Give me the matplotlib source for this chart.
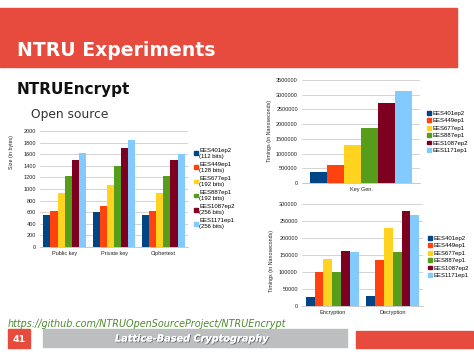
import matplotlib
matplotlib.use("Agg")
import matplotlib.pyplot as plt
import numpy as np
from matplotlib.patches import Rectangle, Patch
import matplotlib.patheffects as pe

# ---------------------------------------------------------------------------
# data
# ---------------------------------------------------------------------------
param_sets = ["EES401ep2", "EES449ep1", "EES677ep1", "EES887ep1", "EES1087ep2", "EES1171ep1"]
security = ["112 bits", "128 bits", "192 bits", "192 bits", "256 bits", "256 bits"]
colors = ["#004586", "#ff420e", "#ffd320", "#579d1c", "#7e0021", "#83caff"]

size_categories = ["Public key", "Private key", "Ciphertext"]
size_public = [553, 622, 939, 1222, 1498, 1614]
size_private = [611, 715, 1072, 1400, 1712, 1850]
size_cipher = [553, 622, 928, 1216, 1493, 1608]

keygen_categories = ["Key Gen."]
keygen_time = [372000, 621000, 1276000, 1863000, 2710000, 3127000]

crypt_categories = ["Encryption", "Decryption"]
encrypt_time = [27500, 101000, 138000, 99000, 163000, 160000]
decrypt_time = [30000, 136000, 229000, 160000, 280000, 268000]

W, H = 474, 355
fig = plt.figure(figsize=(W / 100, H / 100), dpi=100)
fig.patch.set_facecolor("white")


def box(x0, y0, x1, y1):
    # pixel box (top-left origin) -> figure fraction rect
    return [x0 / W, 1 - y1 / H, (x1 - x0) / W, (y1 - y0) / H]


def fx(x):
    return x / W


def fy(y):
    return 1 - y / H


CHART_FONT = "Liberation Sans"


def bar_chart(rect, categories, series, ymax, ystep, ylabel, ylabel_pos):
    ax = fig.add_axes(rect)
    n = len(series[0])
    width = 0.87 / n
    x = np.arange(len(categories))
    for i in range(n):
        vals = [s[i] for s in series]
        ax.bar(x - 0.435 + width * (i + 0.5), vals, width=width, color=colors[i],
               linewidth=0, zorder=3)
    ax.set_xlim(-0.5, len(categories) - 0.5)
    ax.set_ylim(0, ymax)
    ax.set_yticks(np.arange(0, ymax + 1, ystep))
    ax.ticklabel_format(style="plain", axis="y", useOffset=False)
    ax.set_xticks(x)
    ax.set_xticklabels(categories, fontsize=4.3, family=CHART_FONT)
    ax.tick_params(axis="both", length=0, labelsize=4.0, colors="#222222", pad=3)
    for lab in ax.get_yticklabels():
        lab.set_family(CHART_FONT)
    ax.grid(axis="y", color="#b3b3b3", linewidth=0.4, zorder=0)
    for s in ["top", "right", "left"]:
        ax.spines[s].set_visible(False)
    ax.spines["bottom"].set_color("#b3b3b3")
    ax.spines["bottom"].set_linewidth(0.5)
    fig.text(fx(ylabel_pos[0]), fy(ylabel_pos[1]), ylabel, rotation=90, fontsize=3.8,
             family=CHART_FONT, color="#222222", ha="center", va="center")
    return ax


def legend(labels, x, y, spacing):
    handles = [Patch(color=c) for c in colors]
    fig.legend(handles, labels, loc="upper left", bbox_to_anchor=(fx(x), fy(y)),
               frameon=False, prop={"family": CHART_FONT, "size": 4.3},
               handlelength=0.6, handleheight=0.6, handletextpad=0.3,
               labelspacing=spacing, borderaxespad=0, borderpad=0)


# ---------------------------------------------------------------------------
# slide decoration
# ---------------------------------------------------------------------------
fig.patches.append(Rectangle((0, fy(67)), fx(457), (67 - 8) / H, transform=fig.transFigure,
                             color="#e64b3d", zorder=0))
fig.text(fx(17), fy(56), "NTRU Experiments", fontsize=13.6, fontweight="bold",
         color="white", family="DejaVu Sans", va="baseline")
fig.text(fx(17), fy(94), "NTRUEncrypt", fontsize=11, fontweight="bold",
         color="#111111", family="DejaVu Sans", va="baseline")
fig.text(fx(31), fy(118), "Open source", fontsize=8.8, color="#333333",
         family="DejaVu Sans", va="baseline")

fig.text(fx(8), fy(327), "https://github.com/NTRUOpenSourceProject/NTRUEncrypt",
         fontsize=6.9, style="italic", color="#4e8a2e", family="DejaVu Sans",
         va="baseline")
fig.patches.append(Rectangle((fx(8), fy(348)), fx(22), 19 / H, transform=fig.transFigure,
                             color="#e64b3d"))
fig.text(fx(19), fy(339), "41", fontsize=6.8, fontweight="bold", color="white",
         family="DejaVu Sans", ha="center", va="center")
fig.patches.append(Rectangle((fx(43), fy(347)), fx(304), 18 / H, transform=fig.transFigure,
                             color="#bcbec0"))
fig.text(fx(192), fy(338.5), "Lattice-Based Cryptography", fontsize=7.0,
         fontweight="bold", style="italic", color="white", family="DejaVu Sans",
         ha="center", va="center",
         path_effects=[pe.withSimplePatchShadow(offset=(0.6, -0.6), shadow_rgbFace="#555555",
                                                alpha=0.9), pe.Normal()])
fig.patches.append(Rectangle((fx(356), fy(348)), fx(117), 17 / H, transform=fig.transFigure,
                             color="#e64b3d"))

# ---------------------------------------------------------------------------
# charts
# ---------------------------------------------------------------------------
bar_chart(box(40, 131, 188, 247), size_categories,
          [size_public, size_private, size_cipher], 2000, 200,
          "Size (in bytes)", (11, 152))
legend([f"{p}\n({b})" for p, b in zip(param_sets, security)], 194, 148, 0.55)

bar_chart(box(302, 80, 420, 183), keygen_categories, [keygen_time], 3500000, 500000,
          "Timings (in Nanoseconds)", (270, 131))
legend(param_sets, 427, 111, 0.4)

bar_chart(box(302, 204, 423, 306), crypt_categories, [encrypt_time, decrypt_time],
          300000, 50000, "Timings (in Nanoseconds)", (271, 261))
legend(param_sets, 428, 236, 0.4)

fig.savefig("out.png", dpi=100)
